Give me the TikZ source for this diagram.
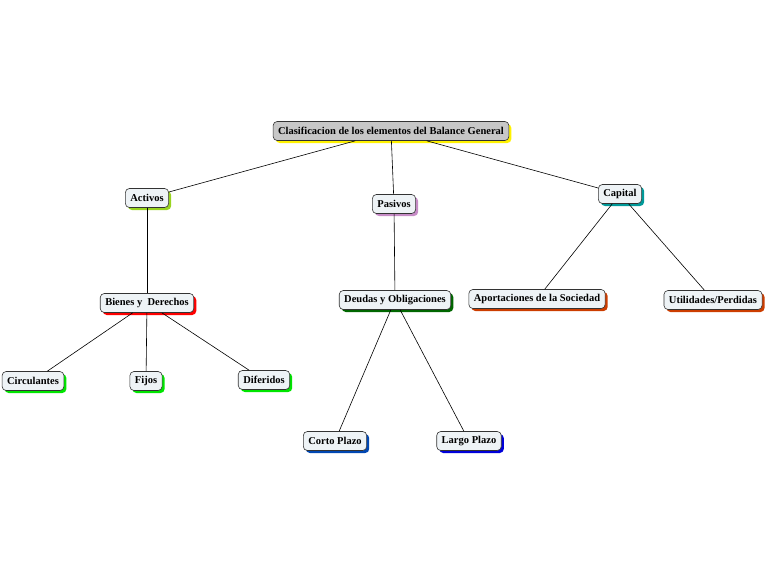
\documentclass[tikz,border=0pt]{standalone}
\usepackage{fontspec}
\setmainfont{Liberation Serif}
\definecolor{boxfill}{HTML}{EEF3F6}
\begin{document}
\begin{tikzpicture}[x=1pt,y=-1pt,
  box/.style={draw=black!80,line width=0.6pt,rounded corners=4pt,fill=#1,font=\bfseries\fontsize{10.5}{12}\selectfont,inner xsep=5pt,inner ysep=4pt,minimum height=19pt},
  link/.style={line width=0.6pt}]
\useasboundingbox (0,0) rectangle (768,578);
\newcommand{\bx}[5][boxfill]{%
  \node[box=#5,draw=none,xshift=2.5pt,yshift=-2.5pt] (s#2) at (#3) {\phantom{#4}};
  \node[box=#1] (#2) at (#3) {#4};}
\bx[black!22]{r}{391,131}{Clasificacion de los elementos del Balance General}{yellow}
\bx{a}{147,198}{Activos}{yellow!60!green}
\bx{p}{394,204}{Pasivos}{violet!45!white}
\bx{c}{620,194}{Capital}{teal!80!cyan}
\bx{b}{147,303}{Bienes y\ \ Derechos}{red}
\bx{d}{395,300}{Deudas y Obligaciones}{green!40!black}
\bx{ap}{537,299}{Aportaciones de la Sociedad}{orange!60!red!80!black}
\bx{u}{713,300}{Utilidades/Perdidas}{orange!60!red!80!black}
\bx{ci}{33,381}{Circulantes}{green!90!black}
\bx{f}{146,381}{Fijos}{green!90!black}
\bx{di}{264,380}{Diferidos}{green!90!black}
\bx{co}{335,441}{Corto Plazo}{blue!60!cyan!70!black}
\bx{l}{469,441}{Largo Plazo}{blue!85!black}
\begin{scope}[on background layer/.style={}]
\draw[link] (r) -- (a); \draw[link] (r) -- (p); \draw[link] (r) -- (c);
\draw[link] (a) -- (b); \draw[link] (p) -- (d); \draw[link] (c) -- (ap); \draw[link] (c) -- (u);
\draw[link] (b) -- (ci); \draw[link] (b) -- (f); \draw[link] (b) -- (di);
\draw[link] (d) -- (co); \draw[link] (d) -- (l);
\end{scope}
\end{tikzpicture}
\end{document}
